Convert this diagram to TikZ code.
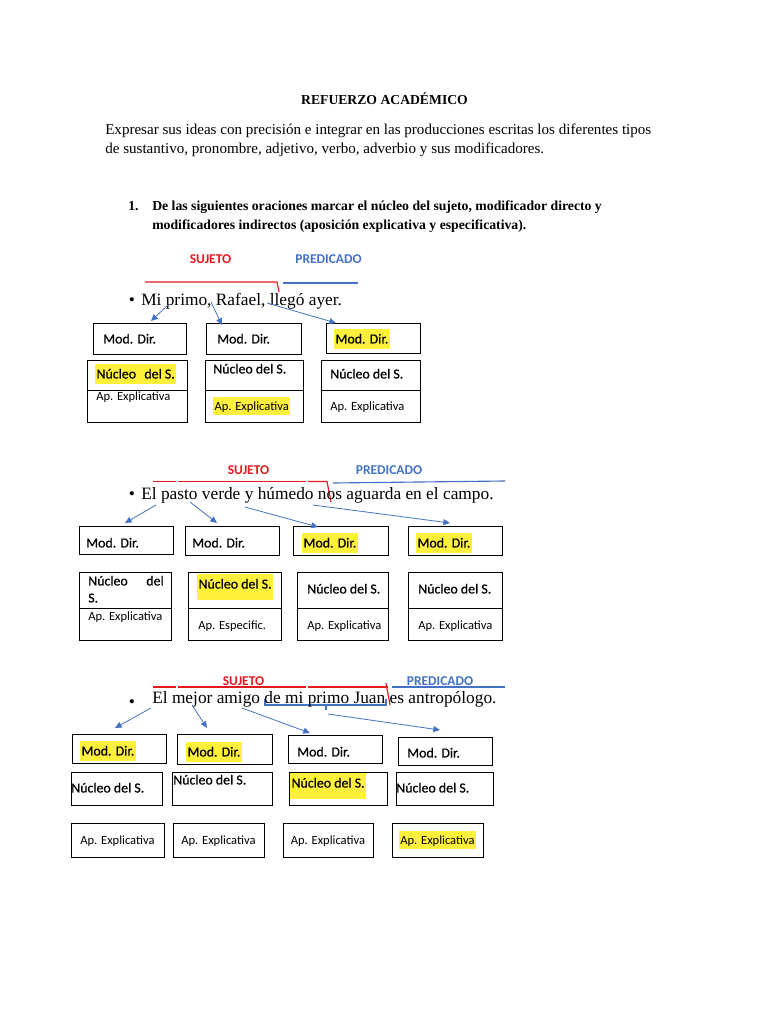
\documentclass[tikz,border=0pt]{standalone}
\usepackage{fontspec}
\setmainfont{Liberation Serif}
\newfontfamily\calib{Carlito}
\newfontfamily\calibsb[FakeBold=0.45]{Carlito}
\usetikzlibrary{arrows.meta}
\definecolor{sred}{RGB}{230,25,30}
\definecolor{sblue}{RGB}{68,114,196}
\definecolor{hlyel}{RGB}{255,240,60}
\newcommand\mybox[5]{\node[boxst,minimum width={(#4-#2)*0.75pt},minimum height={(#5-#3)*0.75pt}] (#1) at ({(#2+#4)/2},{(#3+#5)/2}) {};}
\begin{document}
\begin{tikzpicture}[x=0.75pt,y=-0.75pt,
  boxst/.style={draw=black,line width=0.75pt,inner sep=0pt,outer sep=0pt},
  lbl/.style={font=\calibsb\fontsize{10.4}{12}\selectfont,inner sep=0pt,text height=6.7pt,text depth=0pt,anchor=west},
  aplbl/.style={font=\calib\fontsize{9.4}{11}\selectfont,inner sep=0pt,text height=6.05pt,text depth=0pt,anchor=west},
  hl/.style={fill=hlyel,inner xsep=1pt,inner ysep=4pt},
  hltall/.style={text depth=4.5pt,anchor=north west},
  sent/.style={font=\fontsize{13}{15}\selectfont,inner sep=0pt,anchor=base west},
  body/.style={font=\fontsize{11.3}{13}\selectfont,inner sep=0pt,anchor=base west},
  instr/.style={font=\bfseries\fontsize{10.3}{12}\selectfont,inner sep=0pt,anchor=base west},
  suj/.style={font=\calib\bfseries\fontsize{10.1}{12}\selectfont,text=sred,inner sep=0pt,text height=6.6pt,text depth=0pt},
  pred/.style={font=\calib\bfseries\fontsize{10.1}{12}\selectfont,text=sblue,inner sep=0pt,text height=6.6pt,text depth=0pt},
  redln/.style={draw=sred,line width=0.85pt},
  blueln/.style={draw=sblue,line width=0.85pt},
  arr/.style={draw=sblue,line width=0.6pt,-{Triangle[length=5pt,width=4.5pt]}}
]
\fill[white] (0,0) rectangle (768,1024);
\useasboundingbox (0,0) rectangle (768,1024);

% header
\node[font=\bfseries\fontsize{10.25}{12}\selectfont,inner sep=0pt,anchor=base] (title) at (384.5,104.5) {REFUERZO ACADÉMICO};
\node[body] (body1) at (105,134.5) {Expresar sus ideas con precisión e integrar en las producciones escritas los diferentes tipos};
\node[body] (body2) at (105,153.5) {de sustantivo, pronombre, adjetivo, verbo, adverbio y sus modificadores.};
\node[instr] (num1) at (128,210) {1.};
\node[instr] (ins1) at (152,210) {De las siguientes oraciones marcar el núcleo del sujeto, modificador directo y};
\node[instr] (ins2) at (152,229) {modificadores indirectos (aposición explicativa y especificativa).};

% ---------------- section 1
\node[suj] (suj1) at (210.5,259) {SUJETO};
\node[pred] (pred1) at (328.5,259) {PREDICADO};
\draw[redln] (145,282) -- (277,282) -- (279,292);
\draw[blueln] (283,283) -- (358,283);
\node[sent] (s1bul) at (128.7,305) {•};
\node[sent] (s1) at (141,305) {Mi primo, Rafael, llegó ayer.};

\mybox{m11}{93}{323}{186}{354}
\mybox{m12}{206}{323}{301}{354}
\mybox{m13}{326}{323}{420}{353}
\mybox{k11}{87}{360}{187}{390}
\mybox{p11}{87}{390}{187}{422}
\mybox{k12}{205}{360}{303}{390}
\mybox{p12}{205}{390}{303}{422}
\mybox{k13}{321}{360}{420}{390}
\mybox{p13}{321}{390}{420}{422}

\node[lbl] (t11) at (103,339) {Mod. Dir.};
\node[lbl] (t12) at (217,339) {Mod. Dir.};
\node[lbl,hl] (t13) at (334,339) {Mod. Dir.};
\node[lbl,hl] (n11) at (95,374) {Núcleo\hspace{0.6em}del S.};
\node[aplbl] (a11) at (96,396) {Ap. Explicativa};
\node[lbl] (n12) at (213,369) {Núcleo del S.};
\node[aplbl,hl] (a12) at (213,406) {Ap. Explicativa};
\node[lbl] (n13) at (330,374) {Núcleo del S.};
\node[aplbl] (a13) at (330,406) {Ap. Explicativa};

\coordinate (f11) at (168,305); \coordinate (e11) at (151,321);
\coordinate (f12) at (211,302); \coordinate (e12) at (222,325);
\coordinate (f13) at (267,303); \coordinate (e13) at (336,323);
\draw[arr] (f11) -- (e11);
\draw[arr] (f12) -- (e12);
\draw[arr] (f13) -- (e13);

% ---------------- section 2
\node[suj] (suj2) at (248.5,470) {SUJETO};
\node[pred] (pred2) at (389,470) {PREDICADO};
\draw[redln] (153,481.5) -- (176,481.5);
\draw[redln] (178,481.5) -- (306,481.5);
\draw[redln] (308,481.5) -- (327,481.5) -- (331,502);
\draw[blueln] (333,483) -- (505,481);
\node[sent] (s2bul) at (128.7,499) {•};
\node[sent] (s2) at (141,499) {El pasto verde y húmedo nos aguarda en el campo.};

\mybox{m21}{79}{526}{173}{554}
\mybox{m22}{185}{526}{279}{555}
\mybox{m23}{293}{526}{388}{555}
\mybox{m24}{408}{526}{502}{555}
\mybox{k21}{79}{572}{171}{608}
\mybox{p21}{79}{608}{171}{640}
\mybox{k22}{188}{572}{281}{608}
\mybox{p22}{188}{608}{281}{640}
\mybox{k23}{297}{572}{388}{608}
\mybox{p23}{297}{608}{388}{640}
\mybox{k24}{408}{572}{502}{608}
\mybox{p24}{408}{608}{502}{640}

\node[lbl] (t21) at (86,543) {Mod. Dir.};
\node[lbl] (t22) at (192,543) {Mod. Dir.};
\node[lbl,hl] (t23) at (302,543) {Mod. Dir.};
\node[lbl,hl] (t24) at (416,543) {Mod. Dir.};
\node[lbl] (n21a) at (88,581) {Núcleo};
\node[lbl,anchor=east] (n21b) at (164,581) {del};
\node[lbl] (n21c) at (88,598) {S.};
\node[aplbl] (a21) at (88,616) {Ap. Explicativa};
\node[lbl,hl,hltall] (n22) at (197,574) {Núcleo del S.};
\node[aplbl] (a22) at (198,625) {Ap. Especific.};
\node[lbl] (n23) at (307,589) {Núcleo del S.};
\node[aplbl] (a23) at (307,625) {Ap. Explicativa};
\node[lbl] (n24) at (418,589) {Núcleo del S.};
\node[aplbl] (a24) at (418,625) {Ap. Explicativa};

\coordinate (f21) at (156,505); \coordinate (e21) at (125,523);
\coordinate (f22) at (190,502); \coordinate (e22) at (217,523);
\coordinate (f23) at (245,507); \coordinate (e23) at (318,527);
\coordinate (f24) at (313,505); \coordinate (e24) at (450,523);
\draw[arr] (f21) -- (e21);
\draw[arr] (f22) -- (e22);
\draw[arr] (f23) -- (e23);
\draw[arr] (f24) -- (e24);

% ---------------- section 3
\node[suj] (suj3) at (243.5,681) {SUJETO};
\node[pred] (pred3) at (440,681) {PREDICADO};
\draw[redln] (153,687) -- (176,687);
\draw[redln] (178,687) -- (306,687);
\draw[redln] (308,687) -- (388,687);
\draw[redln] (386,683) -- (390,705);
\draw[blueln] (392,687) -- (505,687);
\draw[blueln] (265,699) -- (265,705) -- (386,705) -- (386,699);
\draw[blueln] (326,705) -- (326,710);
\node[sent] (s3bul) at (128.7,707) {•};
\node[sent] (s3) at (152,703) {El mejor amigo de mi primo Juan es antropólogo.};

\mybox{m31}{72}{734}{166}{763}
\mybox{m32}{177}{734}{272}{764}
\mybox{m33}{288}{735}{382}{763}
\mybox{m34}{398}{737}{492}{765}
\mybox{k31}{71}{772}{162}{805}
\mybox{k32}{172}{772}{272}{805}
\mybox{k33}{289}{772}{387}{805}
\mybox{k34}{396}{772}{493}{805}
\mybox{p31}{71}{823}{164}{857}
\mybox{p32}{173}{823}{264}{857}
\mybox{p33}{283}{823}{373}{857}
\mybox{p34}{392}{823}{483}{857}

\node[lbl,hl] (t31) at (80,751) {Mod. Dir.};
\node[lbl,hl] (t32) at (186,752) {Mod. Dir.};
\node[lbl] (t33) at (297,752) {Mod. Dir.};
\node[lbl] (t34) at (407,753) {Mod. Dir.};
\node[lbl] (n31) at (71,788) {Núcleo del S.};
\node[lbl] (n32) at (173,780) {Núcleo del S.};
\node[lbl,hl,hltall] (n33) at (290,773) {Núcleo del S.};
\node[lbl] (n34) at (396,788) {Núcleo del S.};
\node[aplbl,anchor=center] (a31) at (p31) {Ap. Explicativa};
\node[aplbl,anchor=center] (a32) at (p32) {Ap. Explicativa};
\node[aplbl,anchor=center] (a33) at (p33) {Ap. Explicativa};
\node[aplbl,hl,anchor=center] (a34) at (p34) {Ap. Explicativa};

\coordinate (f31) at (151,708); \coordinate (e31) at (115,728);
\coordinate (f32) at (192,705); \coordinate (e32) at (207,728);
\coordinate (f33) at (242,708); \coordinate (e33) at (310,733);
\coordinate (f34) at (328,714); \coordinate (e34) at (440,730);
\draw[arr] (f31) -- (e31);
\draw[arr] (f32) -- (e32);
\draw[arr] (f33) -- (e33);
\draw[arr] (f34) -- (e34);
\end{tikzpicture}
\end{document}
